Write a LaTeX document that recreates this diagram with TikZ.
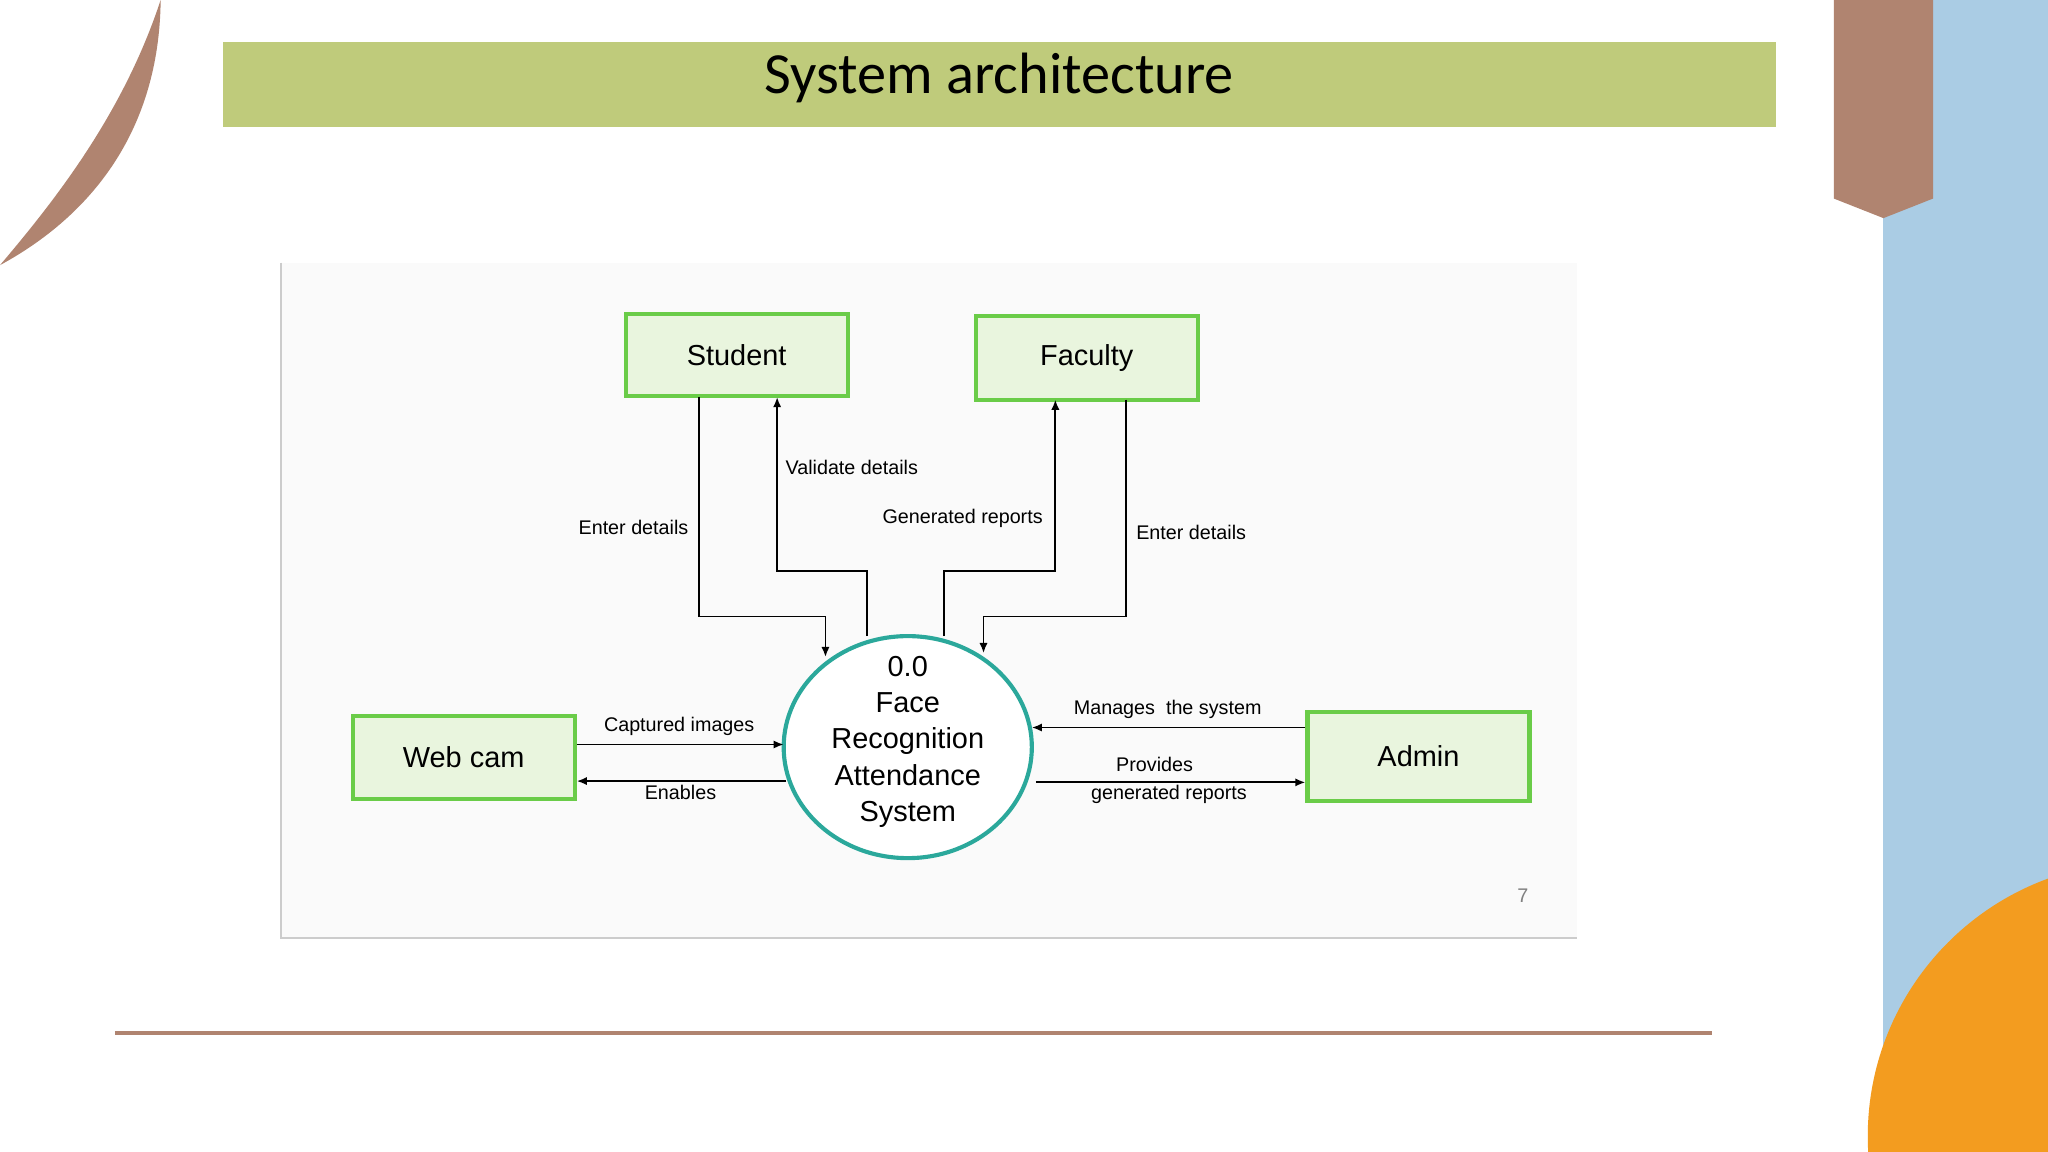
\documentclass[tikz,border=0pt]{standalone}
\usepackage{fontspec}
\setmainfont{Liberation Sans}
\newfontfamily\titlefont{Carlito}
\usetikzlibrary{arrows.meta,shapes.geometric}
\definecolor{barg}{HTML}{BFCB7B}
\definecolor{brn}{HTML}{B08470}
\definecolor{lblue}{HTML}{AACCE4}
\definecolor{orng}{HTML}{F39C1F}
\definecolor{boxfill}{HTML}{E9F5DE}
\definecolor{boxline}{HTML}{6ACC48}
\definecolor{teal}{HTML}{2BA89B}
\tikzset{
 entity/.style={draw=boxline,fill=boxfill,line width=0.9pt,minimum width=17mm,inner sep=0pt,font=\fontsize{6.3}{7}\selectfont},
 flow/.style={line width=0.4pt,-{Latex[length=2.2pt,width=1.8pt]}},
 lbl/.style={font=\fontsize{4.3}{5}\selectfont,inner sep=0.5pt}
}
\begin{document}
\begin{tikzpicture}[x=0.1mm,y=-0.1mm]
\useasboundingbox (0,0) rectangle (1568,882);
\fill[white] (0,0) rectangle (1568,882);
% decorations
\fill[lblue] (1442,0) rectangle (1568,882);
\fill[brn] (1404,0) -- (1480,0) -- (1480,152) -- (1442,167) -- (1404,152) -- cycle;
\begin{scope}
\clip (0,0) rectangle (1568,882);
\fill[orng] (1640,870) circle (210);
\end{scope}
\fill[brn] (0,203) .. controls (70,165) and (122,100) .. (123,0) .. controls (95,85) and (45,150) .. (0,203) -- cycle;
\fill[barg] (171,32) rectangle (1360,97);
\node[font=\titlefont\fontsize{12.7}{14}\selectfont] (title) at (765,60) {System architecture};
\draw[brn,line width=0.9pt] (88,791) -- (1311,791);
% embedded figure
\fill[white!96!gray] (215,201) rectangle (1207,718);
\draw[gray!40,line width=0.5pt] (215,201) -- (215,718) -- (1207,718);
% nodes
\node[entity,minimum height=6.3mm] (student) at (564,272) {Student};
\node[entity,minimum height=6.4mm] (faculty) at (832,274) {Faculty};
\node[entity,minimum height=6.4mm] (webcam) at (355,580) {Web cam};
\node[entity,minimum height=6.8mm] (admin) at (1086,579) {Admin};
\node[draw=teal,line width=0.9pt,fill=white,ellipse,minimum width=19mm,minimum height=17mm,inner sep=0pt] (sys) at (695,572) {};
\node[align=center,font=\fontsize{6.3}{7.9}\selectfont] (systxt) at (695,568) {0.0\\Face\\Recognition\\Attendance\\System};
% student / faculty flows
\coordinate (s1) at (535,304); \coordinate (s1t) at (632,503);
\draw[flow] (s1) |- (580,472) -| (s1t);
\node[lbl] (l1) at (485,404) {Enter details};
\coordinate (s2) at (664,487); \coordinate (s2t) at (595,304);
\draw[flow] (s2) |- (630,437) -| (s2t);
\node[lbl,anchor=west] (l2) at (599,358) {Validate details};
\coordinate (f1) at (723,487); \coordinate (f1t) at (808,306);
\draw[flow] (f1) |- (760,437) -| (f1t);
\node[lbl] (l3) at (737,397) {Generated reports};
\coordinate (f2) at (862,306); \coordinate (f2t) at (753,500);
\draw[flow] (f2) |- (800,472) -| (f2t);
\node[lbl] (l4) at (912,408) {Enter details};
% webcam
\draw[flow] (webcam.east |- 0,570) -- (600,570);
\node[lbl] (l5) at (520,556) {Captured images};
\draw[flow] (602,598) -- (webcam.east |- 0,598);
\node[lbl] (l6) at (521,607) {Enables};
% admin
\draw[flow] (admin.west |- 0,557) -- (790,557);
\node[lbl] (l7) at (894,543) {Manages~ the system};
\draw[flow] (793,599) -- (admin.west |- 0,599);
\node[lbl] (l8) at (884,585) {Provides};
\node[lbl] (l9) at (895,608) {generated reports};
\node[lbl,text=gray] (pg) at (1166,686) {7};
\end{tikzpicture}
\end{document}
